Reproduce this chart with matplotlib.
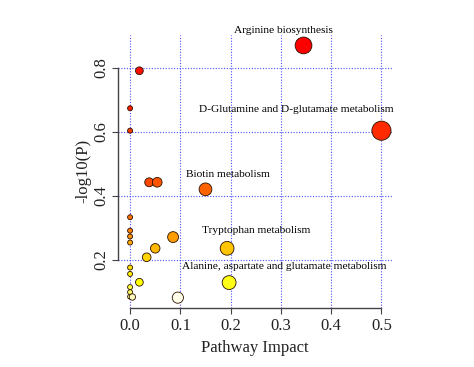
import numpy as np
import matplotlib.pyplot as plt
import matplotlib.colors as mcolors

# pathway impact (x) and -log10(P) (y)
impact = [0.345, 0.5, 0.0185, 0.0, 0.0, 0.038, 0.054, 0.15, 0.0, 0.0, 0.0, 0.0855, 0.0,
          0.05, 0.193, 0.033, 0.0, 0.0, 0.0185, 0.197, 0.0, 0.0, 0.0, 0.0046, 0.095]
logp = [0.869, 0.603, 0.79, 0.673, 0.603, 0.442, 0.442, 0.42, 0.333, 0.291, 0.273, 0.271, 0.254,
        0.236, 0.236, 0.208, 0.176, 0.156, 0.13, 0.129, 0.115, 0.099, 0.085, 0.084, 0.082]

label_names = ["Arginine biosynthesis", "D-Glutamine and D-glutamate metabolism",
               "Biotin metabolism", "Tryptophan metabolism",
               "Alanine, aspartate and glutamate metabolism"]
label_x = [0.306, 0.33, 0.194, 0.251, 0.306]
label_y = [0.915, 0.67, 0.465, 0.29, 0.179]

x = np.array(impact)
y = np.array(logp)
n = len(y)

# R heat.colors(n), handed out by rank of -log10(P)
j = n // 4
i = n - j
hues = np.linspace(0, 1/6, i)
cols = [mcolors.hsv_to_rgb((h, 1, 1)) for h in hues]
for s in np.linspace(1 - 1/(2*j), 1/(2*j), j):
    cols.append(mcolors.hsv_to_rgb((1/6, s, 1)))
order = np.argsort(-y, kind='stable')
colors = [None] * n
for rank, idx in enumerate(order):
    colors[idx] = cols[rank]

# marker diameter in pixels grows with impact
diam_px = 5 + 20 * np.sqrt(x)
sizes = (diam_px * 0.72) ** 2

plt.rcParams['font.family'] = ['Liberation Serif', 'DejaVu Serif']

fig = plt.figure(figsize=(4.74, 3.67), dpi=100)
ax = fig.add_axes([0.249, 0.161, 0.578, 0.744])

ax.scatter(x, y, s=sizes, c=colors, edgecolors='#2a1000', linewidths=0.6, zorder=3)

for name, lx, ly in zip(label_names, label_x, label_y):
    ax.text(lx, ly, name, fontsize=8.2, ha='center', va='center', zorder=4, clip_on=False)

ax.set_xlim(-0.024, 0.521)
ax.set_ylim(0.05, 0.902)
ax.set_xticks([0.0, 0.1, 0.2, 0.3, 0.4, 0.5])
ax.set_yticks([0.2, 0.4, 0.6, 0.8])
ax.grid(True, color='#2020ff', linestyle=(0, (1, 1.5)), linewidth=0.8, alpha=0.8)
ax.set_axisbelow(True)

for side in ['top', 'right']:
    ax.spines[side].set_visible(False)
ax.spines['left'].set_bounds(0.2, 0.8)
ax.spines['bottom'].set_bounds(0.0, 0.5)
for side in ['left', 'bottom']:
    ax.spines[side].set_color('#444444')
    ax.spines[side].set_linewidth(1.0)

ax.tick_params(axis='both', colors='#444444', length=4, labelsize=12, labelcolor='#222222')
ax.tick_params(axis='y', pad=2)
plt.setp(ax.get_yticklabels(), rotation=90, va='center')
ax.set_xlabel('Pathway Impact', fontsize=12, color='#222222', labelpad=4)
ax.set_ylabel('-log10(P)', fontsize=12, color='#222222', labelpad=2)

fig.savefig('out.png', dpi=100)
